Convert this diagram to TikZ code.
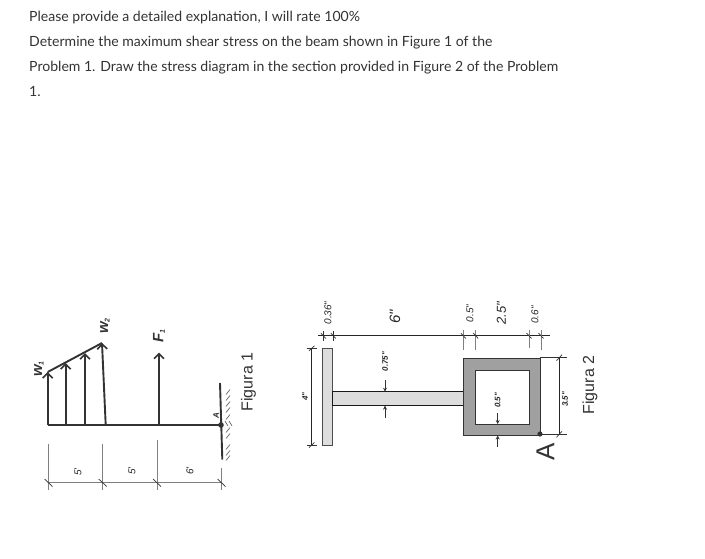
\documentclass[tikz,border=0pt]{standalone}
\usepackage{fontspec}
\setmainfont{Lato}
\newfontfamily\figfont{Liberation Sans}
\usetikzlibrary{arrows.meta}
\definecolor{ink}{HTML}{333333}
\definecolor{webgray}{HTML}{DDDDDD}
\definecolor{boxgray}{HTML}{A0A0A0}
\tikzset{
  para/.style={anchor=base west,inner sep=0pt,text=ink,font=\fontsize{14.05}{16}\selectfont},
  figlabel/.style={rotate=90,inner sep=0pt,text=ink,font=\figfont\fontsize{16}{18}\selectfont},
  hand/.style={rotate=90,inner sep=0pt,text=black!85,font=\figfont\itshape\fontsize{10}{11}\selectfont},
  handsmall/.style={hand,font=\figfont\itshape\bfseries\fontsize{8}{9}\selectfont},
  load/.style={rotate=90,inner sep=0pt,text=ink,font=\figfont\itshape\bfseries\fontsize{15}{16}\selectfont},
  beamline/.style={draw=ink,line width=1.9pt},
  loadarrow/.style={draw=ink,line width=1.9pt,-{Straight Barb[length=5pt,width=10pt,line width=1.6pt]}},
  dimgray/.style={draw=black!50,line width=.7pt},
  dimline/.style={draw=black!85,line width=.7pt},
  extgray/.style={draw=black!50,line width=.9pt},
  tickm/.style={draw=black!80,line width=.7pt},
  smallarrow/.style={draw=black!80,line width=.8pt,-{Stealth[length=4pt,width=4pt]}},
  hatch/.style={draw=black!60,line width=.7pt},
}
\begin{document}
\begin{tikzpicture}[x=1pt,y=-1pt]
\useasboundingbox (0,0) rectangle (705,558);
% text
\node[para] (l1) at (29,21) {Please provide a detailed explanation, I will rate 100\%};
\node[para] (l2) at (29,46) {Determine the maximum shear stress on the beam shown in Figure 1 of the};
\node[para] (l3) at (29,71) {Problem 1. Draw the stress diagram in the section provided in Figure 2 of the Problem};
\node[para] (l4) at (29,96) {1.};
% ---- Figure 1
\coordinate (bl) at (47.7,425);
\coordinate (br) at (221,425);
\draw[beamline] (bl) -- (br);
\draw[beamline] (220,383) -- (222.3,459.5);
\fill[ink] (br) circle (2.8pt);
\draw[loadarrow] (bl) -- (47.7,372);
\draw[loadarrow] (65.7,425) -- (65.7,363);
\draw[loadarrow] (85,425) -- (85,353);
\draw[loadarrow] (105.7,425) -- (102,343);
\draw[loadarrow] (159,425) -- (159,352.5);
\draw[beamline] (47.7,372) -- (102,343);
\foreach \y in {392,398,404,410,417,430,436,447,453,458}
  \draw[hatch] (226,\y+2.5) -- (230,\y-2.5);
\draw[hatch] (225,421) -- (228,426);
\draw[hatch] (229,421) -- (232,426);
\node[load] (w1) at (39,369) {w\raisebox{-1.5pt}{\fontsize{7}{7}\selectfont 1}};
\node[load] (w2) at (105,326) {w\raisebox{-1.5pt}{\fontsize{7}{7}\selectfont 2}};
\node[load] (f1) at (159,336) {F\raisebox{-1.5pt}{\fontsize{7}{7}\selectfont 1}};
\node[handsmall] (a1) at (216,416) {A};
% dims fig 1
\draw[dimgray] (48,482.7) -- (222,482.7);
\draw[extgray] (48.5,444) -- (48.5,490);
\draw[extgray] (102.7,444) -- (102.7,490);
\draw[extgray] (157,440) -- (157,490);
\draw[extgray] (221.5,468) -- (221.5,490);
\foreach \x in {48.5,102.7,157,221.5}
  \draw[tickm] (\x-4,479) -- (\x+4,486.5);
\node[hand] (d1) at (78,472) {5'};
\node[hand] (d2) at (132,471) {5'};
\node[hand] (d3) at (190,471) {6'};
\node[figlabel] (fig1) at (248.5,382) {Figura 1};
% ---- Figure 2
\draw[draw=black!70,fill=webgray,line width=.7pt] (322.7,348.3) rectangle (332.3,445);
\draw[draw=black!90,fill=webgray,line width=.7pt] (332.3,391.7) rectangle (463.3,405.7);
\draw[draw=black!80,fill=boxgray,line width=.8pt] (463.3,358.3) rectangle (540,435);
\draw[draw=black!80,fill=white,line width=.8pt] (475,370) rectangle (529,424);
\fill[ink] (540,434) circle (2.6pt);
\node[rotate=90,inner sep=0pt,text=ink,font=\figfont\fontsize{26}{26}\selectfont] (pa) at (545.5,451.5) {A};
% top dim
\draw[dimline] (318,335.7) -- (550,335.7);
\foreach \x in {323.3,333.3}{
  \draw[tickm] (\x,331) -- (\x,341);
  \draw[tickm] (\x-2.5,333) -- (\x+2.5,338.5);}
\foreach \x/\yb in {463.3/350,475.7/350,529/348,541/350}{
  \draw[extgray] (\x,330) -- (\x,\yb);
  \draw[tickm] (\x-2.5,333) -- (\x+2.5,338.5);}
% left dim
\draw[dimline] (311.7,348.3) -- (311.7,445);
\foreach \y in {348.3,445}{
  \draw[tickm] (306.5,\y) -- (317,\y);
  \draw[tickm] (309,\y+2.5) -- (314.5,\y-2.5);}
% right dim
\draw[dimline] (559.3,357.7) -- (559.3,434.3);
\foreach \y in {357.7,434.3}{
  \draw[tickm] (540,\y) -- (567,\y);
  \draw[tickm] (556.5,\y+3) -- (562,\y-3);}
% inner arrows
\coordinate (a75t) at (385,380);
\coordinate (a75b) at (385,418);
\draw[smallarrow] (a75t) -- (385,391.7);
\draw[smallarrow] (a75b) -- (385,405.7);
\draw[smallarrow] (497.7,413) -- (497.7,424);
\draw[smallarrow] (497.7,446.7) -- (497.7,435.5);
% labels fig 2
\node[hand] (t1) at (328,313) {0.36"};
\node[hand,font=\figfont\itshape\fontsize{15}{16}\selectfont] (t2) at (395,316.5) {6"};
\node[hand] (t3) at (470,313.5) {0.5"};
\node[hand,font=\figfont\itshape\fontsize{13}{14}\selectfont] (t4) at (501.5,313) {2.5"};
\node[hand] (t5) at (535,315) {0.6"};
\node[handsmall] (t6) at (385,361.5) {0.75"};
\node[handsmall] (t7) at (497.7,400.5) {0.5"};
\node[handsmall] (t8) at (305,396.7) {4"};
\node[handsmall] (t9) at (565,399.5) {3.5"};
\node[figlabel] (fig2) at (590,385) {Figura 2};
\end{tikzpicture}
\end{document}
